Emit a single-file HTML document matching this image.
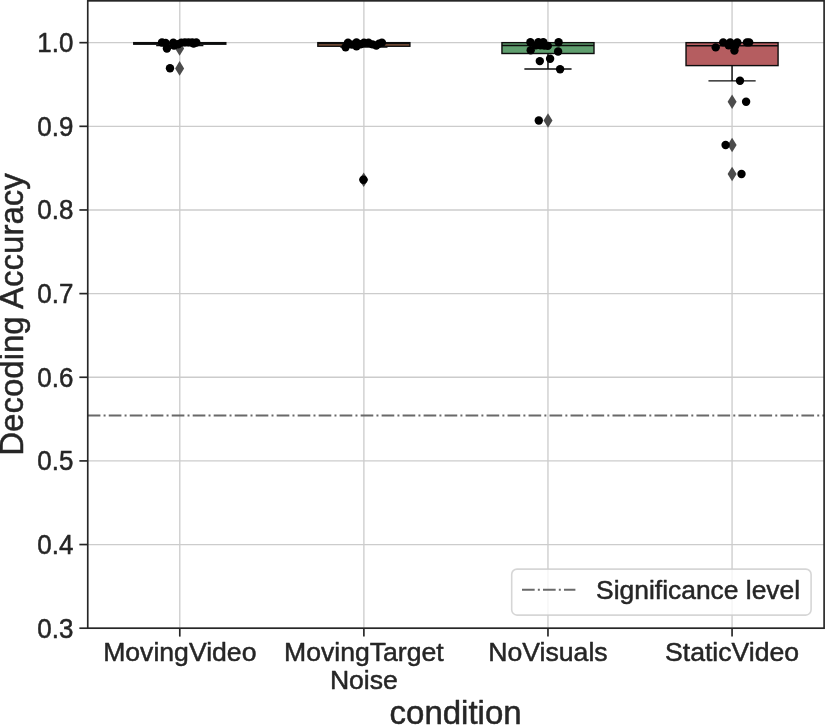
<!DOCTYPE html>
<html><head><meta charset="utf-8"><title>Decoding Accuracy by condition</title>
<style>html,body{margin:0;padding:0;background:#fff}svg{display:block}text{font-family:"Liberation Sans",Arial,Helvetica,sans-serif;fill:#262626;stroke:#262626;stroke-width:0.5px;stroke-linejoin:round}</style></head><body>
<svg width="825" height="725" viewBox="0 0 825 725">
<rect x="0" y="0" width="825" height="725" fill="#fff"/>
<g stroke="#cccccc" stroke-width="1.33" fill="none">
<line x1="179.79" y1="0.85" x2="179.79" y2="628.2"/>
<line x1="363.88" y1="0.85" x2="363.88" y2="628.2"/>
<line x1="547.97" y1="0.85" x2="547.97" y2="628.2"/>
<line x1="732.06" y1="0.85" x2="732.06" y2="628.2"/>
<line x1="87.75" y1="628.20" x2="824.1" y2="628.20"/>
<line x1="87.75" y1="544.55" x2="824.1" y2="544.55"/>
<line x1="87.75" y1="460.91" x2="824.1" y2="460.91"/>
<line x1="87.75" y1="377.26" x2="824.1" y2="377.26"/>
<line x1="87.75" y1="293.61" x2="824.1" y2="293.61"/>
<line x1="87.75" y1="209.97" x2="824.1" y2="209.97"/>
<line x1="87.75" y1="126.32" x2="824.1" y2="126.32"/>
<line x1="87.75" y1="42.67" x2="824.1" y2="42.67"/>
</g>
<g stroke="#0d0d0d" stroke-width="1.4" stroke-linecap="butt">
<rect x="133.77" y="42.65" width="92.04" height="1.55" fill="#5875a4"/>
<line x1="179.79" y1="44.20" x2="179.79" y2="45.60"/>
<line x1="156.19" y1="45.60" x2="203.39" y2="45.60"/>
<line x1="133.77" y1="43.40" x2="225.82" y2="43.40"/>
<rect x="317.86" y="42.65" width="92.04" height="3.60" fill="#8d5b41"/>
<line x1="363.88" y1="46.25" x2="363.88" y2="47.10"/>
<line x1="340.28" y1="47.10" x2="387.48" y2="47.10"/>
<line x1="317.86" y1="43.50" x2="409.90" y2="43.50"/>
<rect x="501.95" y="42.65" width="92.04" height="10.85" fill="#5f9e6e"/>
<line x1="547.97" y1="53.50" x2="547.97" y2="69.00"/>
<line x1="524.37" y1="69.00" x2="571.57" y2="69.00"/>
<line x1="501.95" y1="45.50" x2="593.99" y2="45.50"/>
<rect x="686.03" y="42.65" width="92.04" height="22.95" fill="#b55d60"/>
<line x1="732.06" y1="65.60" x2="732.06" y2="80.90"/>
<line x1="708.46" y1="80.90" x2="755.66" y2="80.90"/>
<line x1="686.03" y1="45.70" x2="778.08" y2="45.70"/>
</g>
<g fill="#4c4c4c">
<polygon points="175.1,48.5 179.6,41.2 184.1,48.5 179.6,55.8"/>
<polygon points="175.1,68.4 179.6,61.1 184.1,68.4 179.6,75.7"/>
<polygon points="359.2,179.7 363.7,172.4 368.2,179.7 363.7,187.0"/>
<polygon points="543.5,120.5 548.0,113.2 552.5,120.5 548.0,127.8"/>
<polygon points="727.6,101.8 732.1,94.5 736.6,101.8 732.1,109.1"/>
<polygon points="727.6,145.0 732.1,137.7 736.6,145.0 732.1,152.3"/>
<polygon points="727.6,174.0 732.1,166.7 736.6,174.0 732.1,181.3"/>
</g>
<g fill="#000">
<circle cx="162.0" cy="42.5" r="4.2"/>
<circle cx="165.6" cy="43.0" r="4.2"/>
<circle cx="166.9" cy="48.5" r="4.2"/>
<circle cx="173.3" cy="42.6" r="4.2"/>
<circle cx="174.0" cy="45.6" r="4.2"/>
<circle cx="178.0" cy="44.3" r="4.2"/>
<circle cx="181.3" cy="42.6" r="4.2"/>
<circle cx="184.9" cy="42.4" r="4.2"/>
<circle cx="188.5" cy="42.4" r="4.2"/>
<circle cx="192.2" cy="42.5" r="4.2"/>
<circle cx="193.6" cy="43.6" r="4.2"/>
<circle cx="196.3" cy="42.5" r="4.2"/>
<circle cx="170.0" cy="68.2" r="4.2"/>
<circle cx="348.0" cy="42.6" r="4.2"/>
<circle cx="345.6" cy="47.2" r="4.2"/>
<circle cx="352.0" cy="44.6" r="4.2"/>
<circle cx="356.5" cy="42.5" r="4.2"/>
<circle cx="356.5" cy="46.2" r="4.2"/>
<circle cx="360.5" cy="44.2" r="4.2"/>
<circle cx="364.0" cy="42.8" r="4.2"/>
<circle cx="368.5" cy="42.8" r="4.2"/>
<circle cx="372.5" cy="44.4" r="4.2"/>
<circle cx="376.3" cy="45.6" r="4.2"/>
<circle cx="379.0" cy="43.6" r="4.2"/>
<circle cx="381.9" cy="42.6" r="4.2"/>
<circle cx="363.4" cy="179.7" r="4.2"/>
<circle cx="530.4" cy="42.3" r="4.2"/>
<circle cx="530.7" cy="50.3" r="4.2"/>
<circle cx="538.4" cy="42.3" r="4.2"/>
<circle cx="543.3" cy="42.3" r="4.2"/>
<circle cx="535.8" cy="45.4" r="4.2"/>
<circle cx="540.5" cy="45.3" r="4.2"/>
<circle cx="544.3" cy="45.6" r="4.2"/>
<circle cx="547.8" cy="45.9" r="4.2"/>
<circle cx="558.6" cy="42.3" r="4.2"/>
<circle cx="558.1" cy="51.5" r="4.2"/>
<circle cx="539.8" cy="61.1" r="4.2"/>
<circle cx="550.1" cy="58.8" r="4.2"/>
<circle cx="560.1" cy="69.3" r="4.2"/>
<circle cx="538.8" cy="120.5" r="4.2"/>
<circle cx="715.7" cy="47.4" r="4.2"/>
<circle cx="723.2" cy="42.4" r="4.2"/>
<circle cx="730.2" cy="42.4" r="4.2"/>
<circle cx="728.6" cy="45.3" r="4.2"/>
<circle cx="737.3" cy="42.4" r="4.2"/>
<circle cx="734.4" cy="50.5" r="4.2"/>
<circle cx="735.2" cy="46.1" r="4.2"/>
<circle cx="746.9" cy="42.4" r="4.2"/>
<circle cx="749.2" cy="42.4" r="4.2"/>
<circle cx="740.0" cy="80.8" r="4.2"/>
<circle cx="746.1" cy="101.8" r="4.2"/>
<circle cx="725.6" cy="145.0" r="4.2"/>
<circle cx="741.5" cy="174.0" r="4.2"/>
</g>
<line x1="87.75" y1="415.5" x2="824.1" y2="415.5" stroke="#696969" stroke-width="2" stroke-dasharray="12.67 3.17 1.98 3.17"/>
<rect x="87.75" y="0.85" width="736.35" height="627.35" fill="none" stroke="#262626" stroke-width="1.67"/>
<g stroke="#262626" stroke-width="1.67">
<line x1="179.79" y1="628.2" x2="179.79" y2="636.6"/>
<line x1="363.88" y1="628.2" x2="363.88" y2="636.6"/>
<line x1="547.97" y1="628.2" x2="547.97" y2="636.6"/>
<line x1="732.06" y1="628.2" x2="732.06" y2="636.6"/>
<line x1="79.35" y1="628.20" x2="87.75" y2="628.20"/>
<line x1="79.35" y1="544.55" x2="87.75" y2="544.55"/>
<line x1="79.35" y1="460.91" x2="87.75" y2="460.91"/>
<line x1="79.35" y1="377.26" x2="87.75" y2="377.26"/>
<line x1="79.35" y1="293.61" x2="87.75" y2="293.61"/>
<line x1="79.35" y1="209.97" x2="87.75" y2="209.97"/>
<line x1="79.35" y1="126.32" x2="87.75" y2="126.32"/>
<line x1="79.35" y1="42.67" x2="87.75" y2="42.67"/>
</g>
<g font-size="26.6" text-anchor="end">
<text transform="translate(73.4,628.20) scale(0.975,1.066)" x="0" y="8.8">0.3</text>
<text transform="translate(73.4,544.55) scale(0.975,1.066)" x="0" y="8.8">0.4</text>
<text transform="translate(73.4,460.91) scale(0.975,1.066)" x="0" y="8.8">0.5</text>
<text transform="translate(73.4,377.26) scale(0.975,1.066)" x="0" y="8.8">0.6</text>
<text transform="translate(73.4,293.61) scale(0.975,1.066)" x="0" y="8.8">0.7</text>
<text transform="translate(73.4,209.97) scale(0.975,1.066)" x="0" y="8.8">0.8</text>
<text transform="translate(73.4,126.32) scale(0.975,1.066)" x="0" y="8.8">0.9</text>
<text transform="translate(73.4,42.67) scale(0.975,1.066)" x="0" y="8.8">1.0</text>
</g>
<g font-size="26.6" text-anchor="middle">
<text x="179.79" y="660.70">MovingVideo</text>
<text x="363.88" y="660.70">MovingTarget</text>
<text x="363.88" y="688.60">Noise</text>
<text x="547.97" y="660.70">NoVisuals</text>
<text x="732.06" y="660.70">StaticVideo</text>
</g>
<text x="455.6" y="723.6" font-size="33" text-anchor="middle">condition</text>
<text transform="translate(23.2,314.5) rotate(-90)" font-size="33" text-anchor="middle">Decoding Accuracy</text>
<rect x="511.7" y="569.1" width="299.4" height="46.0" rx="5.3" ry="5.3" fill="#fff" fill-opacity="0.8" stroke="#cccccc" stroke-opacity="0.8" stroke-width="1.6"/>
<line x1="522" y1="589.8" x2="575.4" y2="589.8" stroke="#696969" stroke-width="2" stroke-dasharray="12.67 3.17 1.98 3.17"/>
<text x="596.1" y="599.3" font-size="26.42">Significance level</text>
</svg></body></html>
